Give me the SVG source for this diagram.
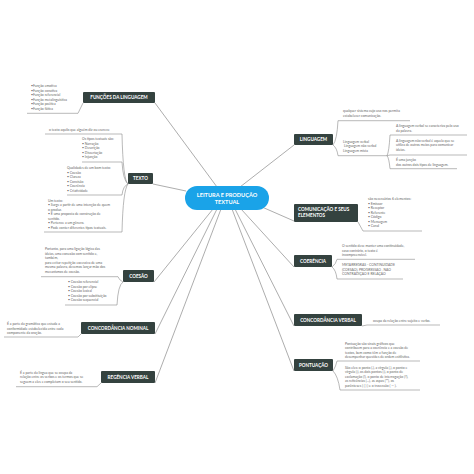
<svg xmlns="http://www.w3.org/2000/svg" width="474" height="474" viewBox="0 0 474 474">
<style>
.bg{fill:#ffffff}
.c{fill:none;stroke:#8a8a8a;stroke-width:0.7}
.u{fill:none;stroke:#8a8a8a;stroke-width:0.6}
.n{fill:#34423f;rx:1}
.nt{font-family:Lato,"Open Sans",sans-serif;font-weight:bold;font-size:4.6px;fill:#ffffff;text-anchor:middle}
.ct{font-family:Lato,"Open Sans",sans-serif;font-weight:bold;font-size:5.6px;fill:#ffffff;text-anchor:middle}
.t{font-family:Lato,"Open Sans",sans-serif;font-size:3.4px;fill:#666666}
</style>
<rect class="bg" x="0" y="0" width="474" height="474"/>
<g id="connectors">
<line class="c" x1="217" y1="187" x2="155" y2="103"/>
<line class="c" x1="186" y1="191" x2="153" y2="184"/>
<line class="c" x1="213" y1="209" x2="154" y2="282"/>
<line class="c" x1="217" y1="209" x2="155" y2="334"/>
<line class="c" x1="221" y1="209" x2="155" y2="383"/>
<line class="c" x1="240" y1="187" x2="294" y2="145"/>
<line class="c" x1="262" y1="207" x2="294" y2="221"/>
<line class="c" x1="241" y1="209" x2="294" y2="267"/>
<line class="c" x1="235" y1="209" x2="294" y2="326"/>
<line class="c" x1="232" y1="209" x2="294" y2="371"/>
<path class="u" d="M83 103 L78 113.3 L27 113.3"/>
<path class="u" d="M128 184 Q123 180 122 134 L45 134"/>
<path class="u" d="M128 184 Q123 180 122 162 L82 162"/>
<path class="u" d="M128 184 Q123 186 122 195 L67 195"/>
<path class="u" d="M128 184 Q123 190 122 232 L44 232"/>
<path class="u" d="M123 282 Q119 280 118 276.7 L41 276.7"/>
<path class="u" d="M123 282 Q118 285 117 305 L65 305"/>
<path class="u" d="M81 334 L78 337 L4 337"/>
<path class="u" d="M101 383 L97 386.7 L16 386.7"/>
<path class="u" d="M333 145 Q337 140 338 120.7 L410 120.7"/>
<path class="u" d="M333 145 Q337 148 338 155.7 L387 155.7"/>
<path class="u" d="M387 155.7 Q389 152 390 135 L467 135"/>
<path class="u" d="M387 155.7 L390 155 L467 155"/>
<path class="u" d="M387 155.7 Q389 158 390 168.7 L457 168.7"/>
<path class="u" d="M358 222 L363 231 L422 231"/>
<path class="u" d="M332 267 Q336 264 337 259.3 L415 259.3"/>
<path class="u" d="M332 267 Q336 270 337 279 L403 279"/>
<path class="u" d="M362 326 L367 325 L440 325"/>
<path class="u" d="M333 371 Q336 366 337 361 L420 361"/>
<path class="u" d="M333 371 Q338 376 340 390 L420 390"/>
</g>
<g id="center">
<rect x="185" y="186" width="84" height="24" rx="12" fill="#1aa3e8"/>
<text class="ct" x="227" y="196.5">LEITURA E PRODUÇÃO</text>
<text class="ct" x="227" y="203.5">TEXTUAL</text>
</g>
<g id="funcoes">
<rect class="n" x="83" y="92" width="72" height="11"/>
<text class="nt" x="119" y="99.2">FUNÇÕES DA LINGUAGEM</text>
<text class="t" x="31" y="87">•Função emotiva</text>
<text class="t" x="31" y="91.5">•Função conativa</text>
<text class="t" x="31" y="96">•Função referencial</text>
<text class="t" x="31" y="100.5">•Função metalinguística</text>
<text class="t" x="31" y="105">•Função poética</text>
<text class="t" x="31" y="109.5">•Função fática</text>
</g>
<g id="texto">
<rect class="n" x="128" y="173" width="25" height="11"/>
<text class="nt" x="140.5" y="180.2">TEXTO</text>
<text class="t" x="49" y="130.5">o texto aquilo que alguém diz ou escreve</text>
<text class="t" x="82" y="140">Os tipos textuais são:</text>
<text class="t" x="82" y="144.5">• Narração</text>
<text class="t" x="82" y="149">• Descrição</text>
<text class="t" x="82" y="153.5">• Dissertação</text>
<text class="t" x="82" y="158">• Injunção</text>
<text class="t" x="67" y="169">Qualidades de um bom texto:</text>
<text class="t" x="67" y="173.5">• Coesão</text>
<text class="t" x="67" y="178">• Clareza</text>
<text class="t" x="67" y="182.5">• Concisão</text>
<text class="t" x="67" y="187">• Coerência</text>
<text class="t" x="67" y="191.5">• Criatividade</text>
<text class="t" x="48" y="201.5">Um texto:</text>
<text class="t" x="48" y="206">• Surge a partir de uma intenção de quem</text>
<text class="t" x="48" y="210.5">o produz.</text>
<text class="t" x="48" y="215">• É uma proposta de construção de</text>
<text class="t" x="48" y="219.5">sentido.</text>
<text class="t" x="48" y="224">• Pertence a um gênero.</text>
<text class="t" x="48" y="228.5">• Pode conter diferentes tipos textuais.</text>
</g>
<g id="coesao">
<rect class="n" x="123" y="270" width="31" height="12"/>
<text class="nt" x="138.5" y="277.6">COESÃO</text>
<text class="t" x="45" y="250.3">Portanto, para uma ligação lógica das</text>
<text class="t" x="45" y="254.8">ideias, uma conexão com sentido e,</text>
<text class="t" x="45" y="259.3">também,</text>
<text class="t" x="45" y="263.8">para evitar repetição excessiva de uma</text>
<text class="t" x="45" y="268.3">mesma palavra, devemos lançar mão dos</text>
<text class="t" x="45" y="272.8">mecanismos de coesão.</text>
<text class="t" x="68" y="283.3">• Coesão referencial</text>
<text class="t" x="68" y="287.8">• Coesão por elipse</text>
<text class="t" x="68" y="292.3">• Coesão lexical</text>
<text class="t" x="68" y="296.8">• Coesão por substituição</text>
<text class="t" x="68" y="301.3">• Coesão sequencial</text>
</g>
<g id="concordancia-nominal">
<rect class="n" x="81" y="322" width="74" height="12"/>
<text class="nt" x="118" y="329.6">CONCORDÂNCIA NOMINAL</text>
<text class="t" x="7" y="325">É a parte da gramática que estuda a</text>
<text class="t" x="7" y="329.5">conformidade estabelecida entre cada</text>
<text class="t" x="7" y="334">componente da oração.</text>
</g>
<g id="regencia-verbal">
<rect class="n" x="101" y="371" width="54" height="12"/>
<text class="nt" x="128" y="378.6">REGÊNCIA VERBAL</text>
<text class="t" x="20" y="373.7">É a parte da língua que se ocupa da</text>
<text class="t" x="20" y="378.2">relação entre os verbos e os termos que se</text>
<text class="t" x="20" y="382.7">seguem a eles e completam o seu sentido.</text>
</g>
<g id="linguagem">
<rect class="n" x="294" y="134" width="39" height="11"/>
<text class="nt" x="313.5" y="141.2">LINGUAGEM</text>
<text class="t" x="343" y="112">qualquer sistema cujo uso nos permita</text>
<text class="t" x="343" y="116.5">estabelecer comunicação.</text>
<text class="t" x="343" y="142.7">Linguagem verbal</text>
<text class="t" x="344" y="147.2"> Linguagem não verbal</text>
<text class="t" x="343" y="151.7">Linguagem mista</text>
<text class="t" x="396" y="127">A linguagem verbal se caracteriza pelo uso</text>
<text class="t" x="396" y="131.5">da palavra.</text>
<text class="t" x="396" y="141.7">A linguagem não verbal é aquela que se</text>
<text class="t" x="396" y="146.2">utiliza de outros meios para comunicar</text>
<text class="t" x="396" y="150.7">ideias.</text>
<text class="t" x="396" y="161">É uma junção</text>
<text class="t" x="396" y="165.5">dos outros dois tipos de linguagem.</text>
</g>
<g id="comunicacao">
<rect class="n" x="294" y="204" width="64" height="18"/>
<text class="nt" x="298" y="211.2" style="text-anchor:start">COMUNICAÇÃO E SEUS</text>
<text class="nt" x="298" y="217" style="text-anchor:start">ELEMENTOS</text>
<text class="t" x="368" y="200">são necessários 6 elementos:</text>
<text class="t" x="368" y="204.5">• Emissor</text>
<text class="t" x="368" y="209">• Receptor</text>
<text class="t" x="368" y="213.5">• Referente</text>
<text class="t" x="368" y="218">• Código</text>
<text class="t" x="368" y="222.5">• Mensagem</text>
<text class="t" x="368" y="227">• Canal</text>
</g>
<g id="coerencia">
<rect class="n" x="294" y="255" width="38" height="12"/>
<text class="nt" x="313" y="262.6">COERÊNCIA</text>
<text class="t" x="342" y="247">O sentido deve manter uma continuidade,</text>
<text class="t" x="342" y="251.5">caso contrário, o texto é</text>
<text class="t" x="342" y="256">incompreensível.</text>
<text class="t" x="342" y="266">METARREGRAS - CONTINUIDADE</text>
<text class="t" x="342" y="270.5">(COESÃO), PROGRESSÃO , NÃO</text>
<text class="t" x="342" y="275">CONTRADIÇÃO E RELAÇÃO</text>
</g>
<g id="concordancia-verbal">
<rect class="n" x="294" y="314" width="68" height="12"/>
<text class="nt" x="328" y="321.6">CONCORDÂNCIA VERBAL</text>
<text class="t" x="373" y="321.7">ocupa da relação entre sujeito e verbo.</text>
</g>
<g id="pontuacao">
<rect class="n" x="294" y="359" width="39" height="12"/>
<text class="nt" x="313.5" y="366.6">PONTUAÇÃO</text>
<text class="t" x="345" y="344.7">Pontuação são sinais gráficos que</text>
<text class="t" x="345" y="349.2">contribuem para a coerência e a coesão de</text>
<text class="t" x="345" y="353.7">textos, bem como têm a função de</text>
<text class="t" x="345" y="358.2">desempenhar questões de ordem estilística.</text>
<text class="t" x="345" y="368.7">São eles: o ponto (.), a vírgula (,), o ponto e</text>
<text class="t" x="345" y="373.2">vírgula (;), os dois pontos (:), o ponto de</text>
<text class="t" x="345" y="377.7">exclamação (!), o ponto de interrogação (?),</text>
<text class="t" x="345" y="382.2">as reticências (...), as aspas (“”), os</text>
<text class="t" x="345" y="386.7">parênteses ( ( ) ) e o travessão ( — ).</text>
</g>
</svg>
